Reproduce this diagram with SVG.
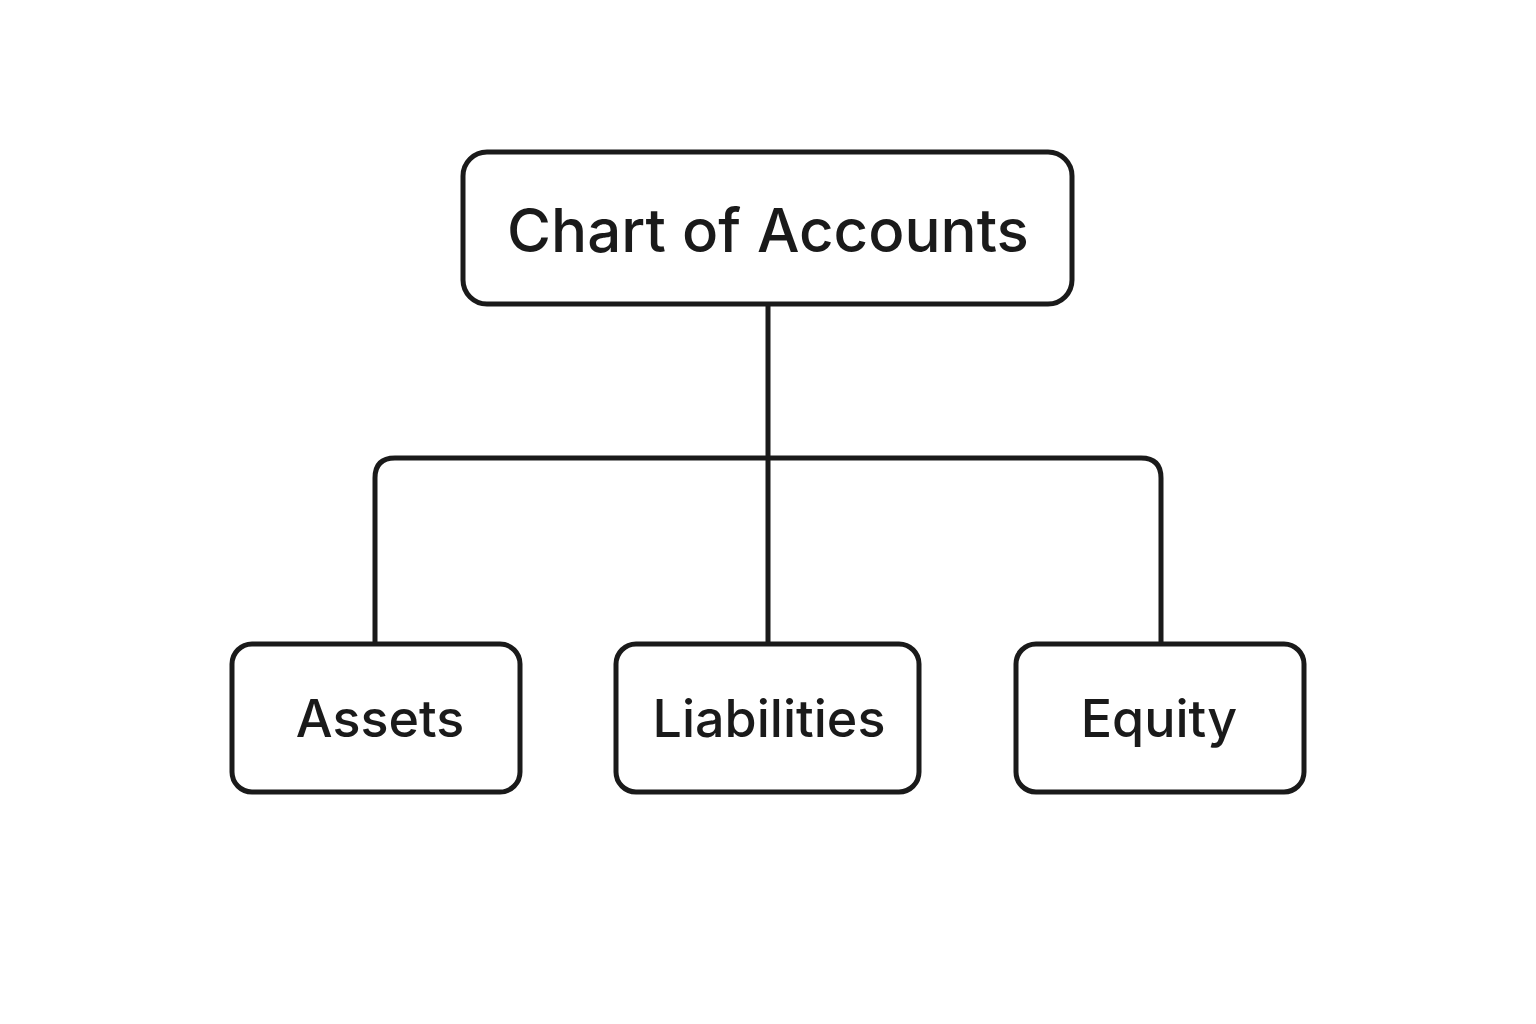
<svg xmlns="http://www.w3.org/2000/svg" width="1536" height="1024" viewBox="0 0 1536 1024">
<style>
.box{fill:#fff;stroke:#1a1a1a;stroke-width:5}
.c{fill:none;stroke:#1a1a1a;stroke-width:5}
text{font-family:Inter,"Noto Sans",sans-serif;fill:#1a1a1a;text-anchor:middle;font-weight:500}
</style>
<rect width="1536" height="1024" fill="#fff"/>
<g id="connectors">
<path class="c" d="M768,304 V644"/>
<path class="c" d="M375,644 V478 Q375,458 395,458 H1141 Q1161,458 1161,478 V644"/>
</g>
<g id="root"><rect class="box" x="463" y="152" width="609" height="152" rx="24"/><text x="768" y="252" font-size="60">Chart of Accounts</text></g>
<g id="assets"><rect class="box" x="232" y="644" width="288" height="148" rx="20"/><text x="380" y="737" font-size="52">Assets</text></g>
<g id="liabilities"><rect class="box" x="616" y="644" width="303" height="148" rx="20"/><text x="769" y="737" font-size="52">Liabilities</text></g>
<g id="equity"><rect class="box" x="1016" y="644" width="288" height="148" rx="20"/><text x="1159" y="737" font-size="52">Equity</text></g>
</svg>
